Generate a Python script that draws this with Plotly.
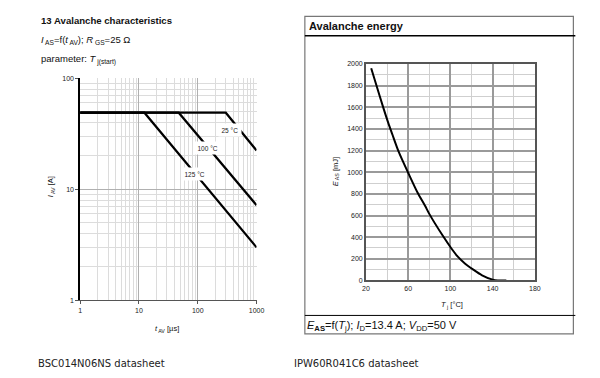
import math
import plotly.graph_objects as go

# ---------------- data ----------------
# Left chart: avalanche current vs. avalanche time (log-log)
t_25 = [1, 300, 1000]
i_25 = [49, 49, 22.4]
t_100 = [1, 47.5, 1000]
i_100 = [49, 49, 7.2]
t_125 = [1, 12.4, 1000]
i_125 = [49, 49, 3.0]
curve_labels = ["25 °C", "100 °C", "125 °C"]
label_t = [355, 148.5, 86.8]
label_i = [34.0, 23.4, 13.8]

# Right chart: avalanche energy vs. junction temperature
tj = [25, 30, 36, 41, 45, 51, 60, 69, 76, 80, 93, 101, 107, 114, 121, 130, 140, 145, 153]
eas = [1960, 1800, 1610, 1460, 1350, 1190, 995, 810, 690, 615, 410, 295, 220, 155, 105, 48, 8, 0, 0]

captions = ["BSC014N06NS datasheet", "IPW60R041C6 datasheet"]

W, H = 600, 378
def px(x): return x / W
def py(y): return 1 - y / H

fig = go.Figure()

for t, i in [(t_25, i_25), (t_100, i_100), (t_125, i_125)]:
    fig.add_trace(go.Scatter(x=t, y=i, mode="lines", line=dict(color="black", width=2.2),
                             xaxis="x", yaxis="y", showlegend=False, hoverinfo="skip"))

fig.add_trace(go.Scatter(x=tj, y=eas, mode="lines", line=dict(color="black", width=2, shape="spline", smoothing=0.8),
                         xaxis="x2", yaxis="y2", showlegend=False, hoverinfo="skip"))

tickfont = dict(family="Liberation Sans, Arial", size=7, color="#222")

fig.update_layout(
    width=W, height=H, autosize=False,
    margin=dict(l=0, r=0, t=0, b=0),
    paper_bgcolor="white", plot_bgcolor="white",
    xaxis=dict(type="log", domain=[px(77.7), px(257.7)], range=[0, 3], anchor="y",
               tickvals=[1, 10, 100, 1000], ticktext=["1", "10", "100", "1000"],
               showgrid=True, gridcolor="#b0b0b0", gridwidth=1,
               minor=dict(showgrid=True, gridcolor="#dcdcdc", gridwidth=1, dtick="D1"),
               showline=True, linecolor="#555", linewidth=1, ticks="outside", ticklen=3, tickcolor="#555",
               tickfont=tickfont, zeroline=False),
    yaxis=dict(type="log", domain=[py(302), py(75.7)], range=[0, 2], anchor="x",
               tickvals=[1, 10, 100], ticktext=["1", "10", "100"],
               showgrid=True, gridcolor="#b0b0b0", gridwidth=1,
               minor=dict(showgrid=True, gridcolor="#dcdcdc", gridwidth=1, dtick="D1"),
               showline=True, linecolor="black", linewidth=1.5, ticks="outside", ticklen=3, tickcolor="#555",
               tickfont=tickfont, zeroline=False),
    xaxis2=dict(domain=[px(369.3), px(541.7)], range=[20, 180], anchor="y2",
                dtick=40, tick0=20, showgrid=True, gridcolor="#9a9a9a", gridwidth=1.5,
                minor=dict(showgrid=True, gridcolor="#cfcfcf", gridwidth=1, dtick=20, tick0=20),
                showline=True, linecolor="#555", linewidth=1.5, mirror=True,
                ticks="", tickfont=tickfont, zeroline=False),
    yaxis2=dict(domain=[py(281.7), py(61)], range=[0, 2000], anchor="x2",
                dtick=200, showgrid=True, gridcolor="#9a9a9a", gridwidth=1.5,
                minor=dict(showgrid=True, gridcolor="#cfcfcf", gridwidth=1, dtick=100),
                showline=True, linecolor="#555", linewidth=1.5, mirror=True,
                ticks="", tickfont=tickfont, zeroline=False),
)

ann = []
# curve labels (white background creates the gaps in lines)
for lab, lx, ly in zip(curve_labels, label_t, label_i):
    ann.append(dict(x=math.log10(lx), y=math.log10(ly), xref="x", yref="y",
                    text=lab, showarrow=False, bgcolor="white", borderpad=2.5,
                    font=dict(family="Liberation Sans, Arial", size=6.5, color="#222")))

def txt(x, y, text, size, xanchor="left", angle=0, family="Liberation Sans, Arial", color="#111"):
    ann.append(dict(x=px(x), y=py(y), xref="paper", yref="paper", text=text, showarrow=False,
                    xanchor=xanchor, yanchor="middle", textangle=angle,
                    font=dict(family=family, size=size, color=color)))

txt(36, 17, "<b>13 Avalanche characteristics</b>", 9.6)
txt(36, 37, "<i>I</i><sub> AS</sub>=f(<i>t</i><sub> AV</sub>); <i>R</i><sub> GS</sub>=25 Ω", 9.5)
txt(36, 57, "parameter: <i>T</i><sub> j(start)</sub>", 9.5)
txt(47.7, 186, "<i>I</i><sub> AV</sub> [A]", 7.5, xanchor="center", angle=-90)
txt(166.7, 331, "<i>t</i><sub> AV</sub> [µs]", 7.5, xanchor="center")

txt(309, 22, "<b>Avalanche energy</b>", 11)
txt(338.3, 171, "<i>E</i><sub> AS</sub> [mJ]", 7.5, xanchor="center", angle=-90)
txt(456.7, 306.7, "<i>T</i><sub> j</sub> [°C]", 7.5, xanchor="center")
txt(307, 328, "<i>E</i><sub><b>AS</b></sub>=f(<i>T</i><sub>j</sub>); <i>I</i><sub>D</sub>=13.4 A; <i>V</i><sub>DD</sub>=50 V", 11)

txt(33, 366, captions[0], 10, family="DejaVu Sans", color="#222")
txt(294, 366, captions[1], 10, family="DejaVu Sans", color="#222")

fig.update_layout(annotations=ann)

fig.update_layout(shapes=[
    dict(type="rect", xref="paper", yref="paper", x0=px(307), x1=px(581), y0=py(336), y1=py(12.7),
         line=dict(color="#777", width=1.2)),
    dict(type="line", xref="paper", yref="paper", x0=px(307), x1=px(583), y0=py(32.3), y1=py(32.3),
         line=dict(color="black", width=1.5)),
    dict(type="line", xref="paper", yref="paper", x0=px(307), x1=px(583), y0=py(317.3), y1=py(317.3),
         line=dict(color="black", width=1)),
])

fig.write_html("out.html", config={"displayModeBar": False},
               post_script="document.body.style.margin='0';document.body.style.padding='0';document.body.style.overflow='hidden';")
